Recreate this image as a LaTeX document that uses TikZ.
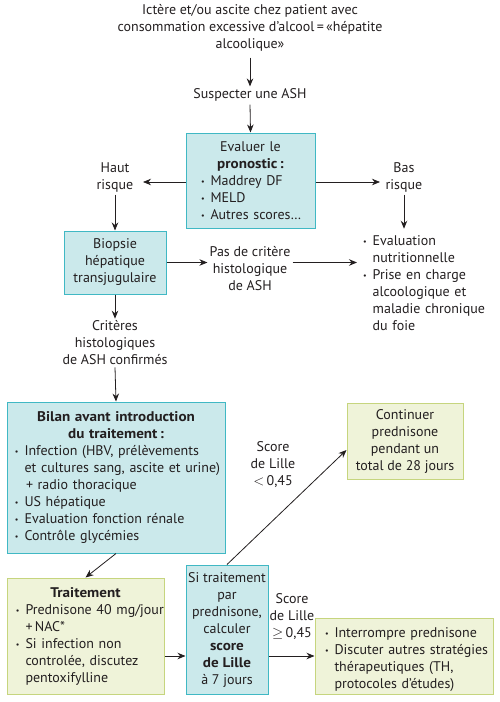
\documentclass[tikz,border=0pt]{standalone}
\usepackage{fontspec}
\setmainfont{PT Sans}[BoldFeatures={FakeStretch=1.08}]
\usetikzlibrary{arrows.meta,calc}
\definecolor{tealfill}{HTML}{CBE9EB}
\definecolor{tealline}{HTML}{40B8C4}
\definecolor{grnfill}{HTML}{EFF3D9}
\definecolor{grnline}{HTML}{C6D57E}
\definecolor{ink}{HTML}{231F20}
\newcommand\bpt{\makebox[9.5pt][l]{\raisebox{1pt}{\fontsize{8}{8}\selectfont\textbullet}}}
\newcommand\bitem{\par\noindent\bpt}
\newcommand\cl{\newline\hspace*{9.5pt}}
\tikzset{
  txt/.style={font=\fontsize{14}{17}\selectfont, text=ink, align=center, inner sep=2pt},
  tbox/.style={txt, draw=tealline, fill=tealfill, line width=1pt},
  gbox/.style={txt, draw=grnline, fill=grnfill, line width=1pt},
  arr/.style={draw=ink, line width=0.8pt, -{Stealth[length=8pt,width=6.5pt]}}
}
\begin{document}
\begin{tikzpicture}[x=1pt,y=-1pt]
\useasboundingbox (0,0) rectangle (500,702);
% top text
\node[txt] (top) at (250,28) {Ictère et/ou ascite chez patient avec\\consommation excessive d’alcool\,=\,«hépatite\\alcoolique»};
\node[txt] (susp) at (250,95) {Suspecter une ASH};
\node[tbox, text width=99pt, inner xsep=15pt, minimum height=95pt, align=left] (eval) at (250.5,180.5)
  {{\centering Evaluer le\\\textbf{pronostic\,:}\par}\bitem\mbox{Maddrey DF}\bitem MELD\bitem\mbox{Autres scores…}};
\node[txt] (haut) at (115,177.5) {Haut\\risque};
\node[txt] (bas) at (404,177.5) {Bas\\risque};
\node[tbox, minimum width=102pt, minimum height=63pt] (bio) at (115,262.5) {Biopsie\\hépatique\\transjugulaire};
\node[txt] (pas) at (250,269) {Pas de critère\\histologique\\de ASH};
\node[txt, anchor=west, text width=128pt, align=left, inner xsep=0pt, inner ysep=0pt] (list) at (363,280)
  {\bitem\mbox{Evaluation}\cl\mbox{nutritionnelle}\bitem\mbox{Prise en charge}\cl\mbox{alcoologique et}\cl\mbox{maladie chronique}\cl\mbox{du foie}};
\node[txt] (crit) at (115,343) {Critères\\histologiques\\de ASH confirmés};
\node[tbox, text width=202pt, inner xsep=8pt, minimum height=151pt, align=left] (bilan) at (116,477.5)
  {{\centering\textbf{Bilan avant introduction\\du traitement\,:}\par}\bitem\mbox{Infection (HBV, prélèvements}\cl\mbox{et cultures sang, ascite et urine)}\cl\mbox{\hspace*{1.5pt}+ radio thoracique}\bitem\mbox{US hépatique}\bitem\mbox{Evaluation fonction rénale}\bitem\mbox{Contrôle glycémies}};
\node[gbox, minimum width=116pt, minimum height=76pt] (cont) at (405,441) {Continuer\\prednisone\\pendant un\\total de 28 jours};
\node[txt] (score1) at (273,465) {Score\\de Lille\\$<$\,0,45};
\node[gbox, text width=139pt, inner xsep=9pt, minimum height=116pt, align=left] (trait) at (85.5,636)
  {{\centering\textbf{Traitement}\par}\bitem\mbox{Prednisone 40 mg/jour}\cl\mbox{+\,NAC*}\bitem\mbox{Si infection non}\cl\mbox{controlée, discutez}\cl\mbox{pentoxifylline}};
\node[tbox, minimum width=82pt, minimum height=129pt, inner xsep=1pt] (si) at (227,629.5)
  {Si traitement\\par\\prednisone,\\calculer\\\textbf{score}\\\textbf{de Lille}\\à 7 jours};
\node[txt] (score2) at (292,617) {Score\\de Lille\\$\geq$\,0,45};
\node[gbox, text width=158pt, inner xsep=10pt, minimum height=76pt, align=left] (inter) at (404,656)
  {\bitem\mbox{Interrompre prednisone}\bitem\mbox{Discuter autres stratégies}\cl\mbox{thérapeutiques (TH,}\cl\mbox{protocoles d’études)}};
% connectors
\draw[arr, shorten <=4pt] (top.south) -- (susp.north);
\draw[arr, shorten <=1pt] (susp.south) -- (eval.north);
\draw[arr] (eval.west |- 0,182) -- (143,182);
\draw[arr] (eval.east |- 0,182) -- (380,182);
\draw[arr] (haut.south) -- (bio.north);
\draw[arr] (bas.south) -- (bas.south |- list.north);
\draw[arr] (bio.east) -- (pas.west |- bio.east);
\draw[arr, shorten >=6pt] (pas.east |- bio.east) -- (list.west |- bio.east);
\draw[arr] (bio.south) -- (crit.north);
\draw[arr] (crit.south) -- (bilan.north);
\draw[arr] (bilan.south) -- (trait.north);
\draw[arr] (trait.east |- inter.west) -- (si.west |- inter.west);
\draw[arr] (si.east |- inter.west) -- (inter.west);
\draw[arr] (si.north) -- ([yshift=-9pt]cont.west);
\end{tikzpicture}
\end{document}
